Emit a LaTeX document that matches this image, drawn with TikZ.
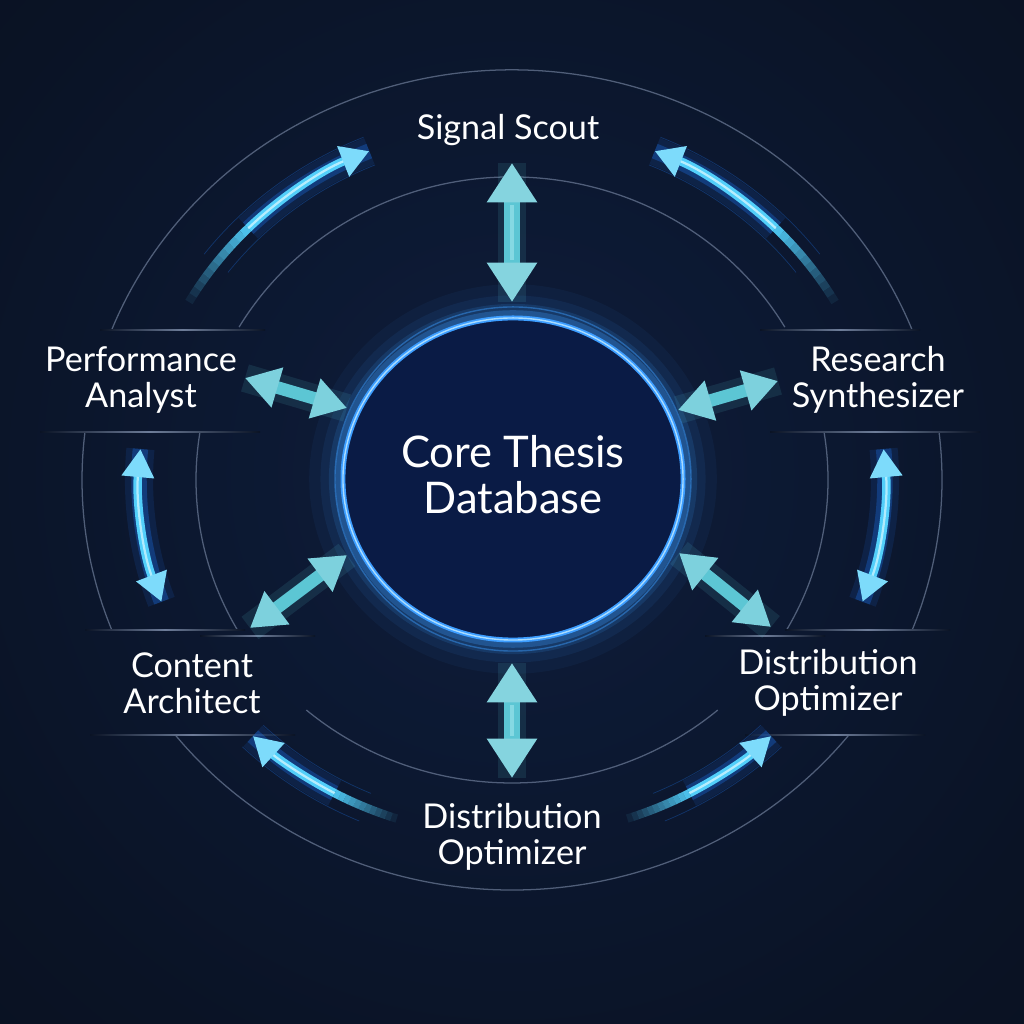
\documentclass[tikz,border=0pt]{standalone}
\usepackage{fontspec}
\setmainfont{Lato}
\usetikzlibrary{arrows.meta}
\definecolor{bgA}{HTML}{060A13}
\definecolor{bgM}{HTML}{0A1325}
\definecolor{bgB}{HTML}{0E1D3C}
\definecolor{ringc}{HTML}{6E7D99}
\definecolor{tealc}{HTML}{5CC6D4}
\definecolor{tealL}{HTML}{B8F2F7}
\definecolor{glowB}{HTML}{1E78F5}
\definecolor{cyanA}{HTML}{52CFFA}
\definecolor{cyanL}{HTML}{D8F8FF}
\definecolor{coreIn}{HTML}{0A1B45}
\definecolor{coreMid}{HTML}{103482}
\definecolor{coreRim}{HTML}{2468DA}
\definecolor{rimB}{HTML}{3C9DFF}
\pgfdeclareradialshading{bgshade}{\pgfpoint{0bp}{0bp}}{color(0bp)=(bgB); color(22bp)=(bgM); color(50bp)=(bgA)}
\pgfdeclareradialshading{coreshade}{\pgfpoint{0bp}{0bp}}{color(0bp)=(coreIn); color(28bp)=(coreIn); color(44bp)=(coreMid); color(50bp)=(coreRim)}
\newcommand\hlin[3]{\shade[left color=bgM, right color=bgM, middle color=ringc] (#1,#3-0.7) rectangle (#2,#3+0.7);}
\newcommand\flowarc[2]{%
  \pgfmathsetmacro\fM{#1+0.4*(#2-#1)}%
  \pgfmathsetmacro\fQ{#1+0.2*(#2-#1)}%
  \draw[glowB, line width=20pt, opacity=.12] (C) ++(\fM:373 and 356) arc[start angle=\fM, end angle=#2, x radius=9.325cm, y radius=8.9cm];
  \draw[glowB, line width=11pt, opacity=.3] (C) ++(\fM:373 and 356) arc[start angle=\fM, end angle=#2, x radius=9.325cm, y radius=8.9cm];
  \draw[glowB, line width=.5pt, opacity=.3] (C) ++(\fQ:388 and 371) arc[start angle=\fQ, end angle=#2, x radius=9.7cm, y radius=9.275cm];
  \draw[glowB, line width=.5pt, opacity=.3] (C) ++(\fQ:358 and 341) arc[start angle=\fQ, end angle=#2, x radius=8.95cm, y radius=8.525cm];
  \foreach \k in {0,...,11}{%
    \pgfmathsetmacro\sa{#1+(\fM-#1)*\k/12}%
    \pgfmathsetmacro\sb{#1+(\fM-#1)*(\k+1)/12}%
    \pgfmathsetmacro\op{(\k+1)/13}%
    \draw[cyanA, line width=6pt, opacity=\op] (C) ++(\sa:373 and 356) arc[start angle=\sa, end angle=\sb, x radius=9.325cm, y radius=8.9cm];
  }
  \draw[cyanA, line width=6pt, -{Triangle[length=20pt,width=22pt,color=cyanA!75!white]}] (C) ++(\fM:373 and 356) arc[start angle=\fM, end angle=#2, x radius=9.325cm, y radius=8.9cm];
  \draw[cyanL, line width=1.6pt, opacity=.75, shorten >=20pt] (C) ++(\fM:373 and 356) arc[start angle=\fM, end angle=#2, x radius=9.325cm, y radius=8.9cm];
}
\newcommand\dblarc[2]{%
  \draw[glowB, line width=20pt, opacity=.12] (C) ++(#1:373 and 356) arc[start angle=#1, end angle=#2, x radius=9.325cm, y radius=8.9cm];
  \draw[glowB, line width=11pt, opacity=.3] (C) ++(#1:373 and 356) arc[start angle=#1, end angle=#2, x radius=9.325cm, y radius=8.9cm];
  \draw[cyanA, line width=6pt, {Triangle[length=20pt,width=22pt,color=cyanA!75!white]}-{Triangle[length=20pt,width=22pt,color=cyanA!75!white]}] (C) ++(#1:373 and 356) arc[start angle=#1, end angle=#2, x radius=9.325cm, y radius=8.9cm];
  \draw[cyanL, line width=1.6pt, opacity=.7, shorten >=20pt, shorten <=20pt] (C) ++(#1:373 and 356) arc[start angle=#1, end angle=#2, x radius=9.325cm, y radius=8.9cm];
}
\begin{document}
\begin{tikzpicture}[x=0.025cm,y=0.025cm,
  ring/.style={draw=ringc, line width=0.9pt, opacity=0.7},
  lbl/.style={text=white, font=\fontsize{24.3}{25.6}\selectfont, align=center, inner sep=0pt},
  tglow/.style={draw=tealc, line width=20pt, opacity=.12},
  tealarrow/.style={draw=tealc, line width=11pt, {Triangle[length=28pt,width=34pt,color=tealc!75!white]}-{Triangle[length=28pt,width=34pt,color=tealc!75!white]}},
  tealdiag/.style={draw=tealc, line width=9pt, {Triangle[length=24pt,width=28pt,color=tealc!80!white]}-{Triangle[length=24pt,width=28pt,color=tealc!80!white]}},
  thl/.style={draw=tealL, line width=3pt, opacity=.45, shorten <=30pt, shorten >=30pt}
]
\useasboundingbox (0,0) rectangle (1024,1024);
\fill[bgA] (0,0) rectangle (1024,1024);
\shade[shading=bgshade] (-200,-180) rectangle (1224,1280);

\coordinate (C) at (512,544);

% rings
\draw[ring] (C) ++(21.5:430 and 410) arc[start angle=21.5,end angle=158.5,x radius=10.75cm,y radius=10.25cm];
\draw[ring] (C) ++(173.4:430 and 410) arc[start angle=173.4,end angle=201.5,x radius=10.75cm,y radius=10.25cm];
\draw[ring] (C) ++(218.5:430 and 410) arc[start angle=218.5,end angle=321.5,x radius=10.75cm,y radius=10.25cm];
\draw[ring] (C) ++(-21.5:430 and 410) arc[start angle=-21.5,end angle=6.6,x radius=10.75cm,y radius=10.25cm];
\draw[ring] (C) ++(30.3:316 and 303) arc[start angle=30.3,end angle=149.7,x radius=7.9cm,y radius=7.575cm];
\draw[ring] (C) ++(171.1:316 and 303) arc[start angle=171.1,end angle=209.7,x radius=7.9cm,y radius=7.575cm];
\draw[ring] (C) ++(229.4:316 and 303) arc[start angle=229.4,end angle=310.6,x radius=7.9cm,y radius=7.575cm];
\draw[ring] (C) ++(-29.7:316 and 303) arc[start angle=-29.7,end angle=8.9,x radius=7.9cm,y radius=7.575cm];

% horizontal separators
\hlin{100}{265}{694}
\hlin{760}{920}{694}
\hlin{40}{260}{592}
\hlin{770}{980}{592}
\hlin{85}{245}{394}
\hlin{200}{315}{388}
\hlin{785}{950}{394}
\hlin{705}{825}{388}
\hlin{90}{295}{289}
\hlin{745}{925}{289}

% core
\foreach \w/\o in {48/0.05, 32/0.08, 20/0.14, 11/0.28}
  \draw[rimB, line width=\w pt, opacity=\o] (513,545) ellipse[x radius=4.25cm, y radius=4.025cm];
\draw[rimB, line width=1pt, opacity=.45] (513,545) ellipse[x radius=4.45cm, y radius=4.3cm];
\shade[shading=coreshade] (513,545) ellipse[x radius=4.25cm, y radius=4.025cm];
\draw[rimB, line width=3.5pt] (513,545) ellipse[x radius=4.25cm, y radius=4.025cm];
\draw[cyanL, line width=1pt, opacity=.7] (513,545) ellipse[x radius=4.25cm, y radius=4.025cm];
\node[lbl, font=\fontsize{31}{32.7}\selectfont] (core) at (513,549) {Core Thesis\\Database};

% labels
\node[lbl] (scout) at (508,894) {Signal Scout};
\node[lbl] (perf) at (141,644) {Performance\\Analyst};
\node[lbl] (res) at (878,644) {Research\\Synthesizer};
\node[lbl] (cont) at (192,341) {Content\\Architect};
\node[lbl] (dist1) at (828,341) {Distribution\\Optimizer};
\node[lbl] (dist2) at (512,187) {Distribution\\Optimizer};

% curved flow arrows
\flowarc{150}{112.5}
\flowarc{30}{67.5}
\flowarc{252}{226}
\flowarc{288}{314}
\dblarc{175}{200}
\dblarc{5}{-20}

% straight teal arrows
\coordinate (ta1) at (512,861); \coordinate (ta2) at (512,722);
\coordinate (ba1) at (512,361); \coordinate (ba2) at (512,246);
\coordinate (lu1) at (245,646); \coordinate (lu2) at (347,616);
\coordinate (ru1) at (678,614); \coordinate (ru2) at (778,643);
\coordinate (ll1) at (250,396); \coordinate (ll2) at (347,469);
\coordinate (rl1) at (679,471); \coordinate (rl2) at (771,397);
\foreach \a/\b in {ta1/ta2, ba1/ba2}{
  \draw[tglow] (\a) -- (\b);
  \draw[tealarrow] (\a) -- (\b);
  \draw[thl] (\a) -- (\b);
}
\foreach \a/\b in {lu1/lu2, ru1/ru2, ll1/ll2, rl1/rl2}{
  \draw[tglow] (\a) -- (\b);
  \draw[tealdiag] (\a) -- (\b);
}
\end{tikzpicture}
\end{document}
